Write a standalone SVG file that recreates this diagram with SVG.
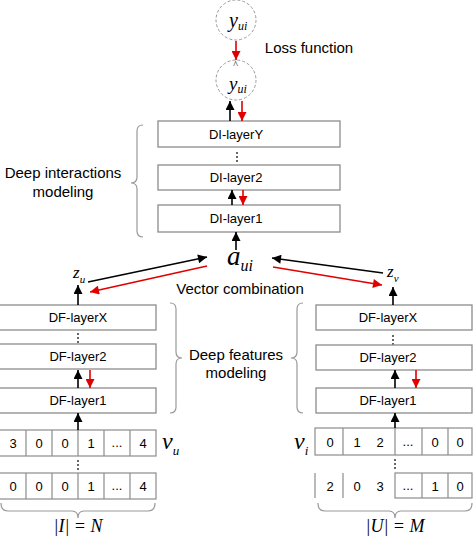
<svg xmlns="http://www.w3.org/2000/svg" width="474" height="536" viewBox="0 0 474 536">
<defs>
<marker id="ab" viewBox="0 0 10 10" refX="10" refY="5" markerWidth="10" markerHeight="9" markerUnits="userSpaceOnUse" orient="auto"><path d="M0,0 L10,5 L0,10 Z" fill="#000"/></marker>
<marker id="ar" viewBox="0 0 10 10" refX="10" refY="5" markerWidth="10" markerHeight="9" markerUnits="userSpaceOnUse" orient="auto"><path d="M0,0 L10,5 L0,10 Z" fill="#e00000"/></marker>
</defs>
<style>
.box{fill:#fff;stroke:#8c8c8c;stroke-width:1.3}
.cell{fill:none;stroke:#8c8c8c;stroke-width:1.2}
.circ{fill:#fff;stroke:#9a9a9a;stroke-width:1;stroke-dasharray:3 2}
.lbl{font-family:"Liberation Sans",Arial,sans-serif;font-size:13px;fill:#000;text-anchor:middle}
.txt{font-family:"Liberation Sans",Arial,sans-serif;font-size:15px;fill:#000;text-anchor:middle}
.num{font-family:"Liberation Sans",Arial,sans-serif;font-size:13px;fill:#000;text-anchor:middle}
.mth{font-family:"Liberation Serif","Times New Roman",serif;font-style:italic;fill:#000}
.bk{stroke:#000;stroke-width:1.6;fill:none;marker-end:url(#ab)}
.rd{stroke:#e00000;stroke-width:1.6;fill:none;marker-end:url(#ar)}
.br{fill:none;stroke:#999;stroke-width:1.2}
.dot{fill:#333}
</style>

<g id="y-ui">
<circle class="circ" cx="236" cy="20" r="20"/>
<text class="mth" x="229" y="27" font-size="20">y<tspan font-size="12" dy="3">ui</tspan></text>
</g>
<text id="loss-label" class="txt" x="309" y="53">Loss function</text>
<g id="y-hat">
<circle class="circ" cx="236" cy="80" r="20"/>
<text class="mth" x="235" y="68" font-size="10" text-anchor="middle" font-style="normal">^</text>
<text class="mth" x="229" y="90" font-size="19">y<tspan font-size="12" dy="3">ui</tspan></text>
</g>

<g id="di-layerY"><rect class="box" x="158" y="121" width="182" height="26"/><text class="lbl" x="236" y="139">DI-layerY</text></g>
<g id="di-dots"><circle class="dot" cx="237" cy="153" r="1"/><circle class="dot" cx="237" cy="157" r="1"/><circle class="dot" cx="237" cy="161" r="1"/></g>
<g id="di-layer2"><rect class="box" x="158" y="165" width="182" height="25"/><text class="lbl" x="236" y="182">DI-layer2</text></g>
<g id="di-layer1"><rect class="box" x="158" y="205" width="182" height="27"/><text class="lbl" x="236" y="223">DI-layer1</text></g>
<g id="di-brace"><path class="br" d="M143,125 Q137,125 137,131 L137,177 Q137,183 131,183 Q137,183 137,189 L137,231 Q137,237 143,237"/>
<text class="txt" x="63" y="178">Deep interactions</text><text class="txt" x="63" y="197">modeling</text></g>

<g id="a-ui"><text class="mth" x="227" y="265" font-size="27">a<tspan font-size="16" dy="6">ui</tspan></text></g>
<g id="z-u"><text class="mth" x="73" y="278" font-size="17">z<tspan font-size="11" dy="5">u</tspan></text></g>
<g id="z-v"><text class="mth" x="387" y="277" font-size="17">z<tspan font-size="11" dy="5">v</tspan></text></g>
<text id="vc-label" class="txt" x="240" y="294">Vector combination</text>

<g id="df-left">
<rect class="box" x="-1" y="305" width="157" height="25"/><text class="lbl" x="78" y="322">DF-layerX</text>
<circle class="dot" cx="78" cy="334" r="1"/><circle class="dot" cx="78" cy="338" r="1"/><circle class="dot" cx="78" cy="342" r="1"/>
<rect class="box" x="-1" y="344" width="157" height="25"/><text class="lbl" x="78" y="361">DF-layer2</text>
<rect class="box" x="-1" y="388" width="157" height="25"/><text class="lbl" x="78" y="405">DF-layer1</text>
</g>
<g id="df-right">
<rect class="box" x="316" y="305" width="156" height="25"/><text class="lbl" x="388" y="322">DF-layerX</text>
<circle class="dot" cx="393" cy="336" r="1"/><circle class="dot" cx="393" cy="340" r="1"/><circle class="dot" cx="393" cy="344" r="1"/>
<rect class="box" x="316" y="345" width="156" height="25"/><text class="lbl" x="388" y="362">DF-layer2</text>
<rect class="box" x="316" y="388" width="156" height="25"/><text class="lbl" x="388" y="405">DF-layer1</text>
</g>
<g id="df-brace"><path class="br" d="M170,303 Q176,303 176,309 L176,352 Q176,358 182,358 Q176,358 176,364 L176,407 Q176,413 170,413"/>
<path class="br" d="M303,303 Q297,303 297,309 L297,352 Q297,358 291,358 Q297,358 297,364 L297,407 Q297,413 303,413"/>
<text class="txt" x="236" y="360">Deep features</text><text class="txt" x="236" y="378">modeling</text></g>

<g id="table-u">
<rect class="cell" x="-1" y="430" width="157" height="26"/>
<path class="cell" d="M26,430V456M52,430V456M78,430V456M104,430V456M130,430V456"/>
<text class="num" x="13" y="448">3</text><text class="num" x="39" y="448">0</text><text class="num" x="65" y="448">0</text><text class="num" x="91" y="448">1</text><text class="num" x="117" y="447" font-size="10">...</text><text class="num" x="143" y="448">4</text>
<circle class="dot" cx="78" cy="461" r="1"/><circle class="dot" cx="78" cy="465" r="1"/><circle class="dot" cx="78" cy="469" r="1"/>
<rect class="cell" x="-1" y="473" width="157" height="26"/>
<path class="cell" d="M26,473V499M52,473V499M78,473V499M104,473V499M130,473V499"/>
<text class="num" x="13" y="491">0</text><text class="num" x="39" y="491">0</text><text class="num" x="65" y="491">0</text><text class="num" x="91" y="491">1</text><text class="num" x="117" y="490" font-size="10">...</text><text class="num" x="143" y="491">4</text>
<text class="mth" x="162" y="449" font-size="24">v<tspan font-size="13" dy="6">u</tspan></text>
<path class="br" d="M1,503 Q1,511 8,511 L72,511 Q78,511 78,518 Q78,511 84,511 L148,511 Q155,511 155,503"/>
<text class="mth" x="78" y="532" font-size="18" text-anchor="middle">|I| = N</text>
</g>
<g id="table-i">
<rect class="cell" x="315" y="428" width="157" height="27"/>
<path class="cell" d="M343,428V455M395,428V455M422,428V455M448,428V455"/>
<text class="num" x="330" y="447">0</text><text class="num" x="357" y="447">1</text><text class="num" x="380" y="447">2</text><text class="num" x="408" y="446" font-size="10">...</text><text class="num" x="435" y="447">0</text><text class="num" x="460" y="447">0</text>
<circle class="dot" cx="395" cy="460" r="1"/><circle class="dot" cx="395" cy="464" r="1"/><circle class="dot" cx="395" cy="468" r="1"/>
<path class="cell" d="M315,473V498M343,473V498"/>
<rect class="cell" x="395" y="473" width="77" height="25"/>
<path class="cell" d="M422,473V498M448,473V498"/>
<text class="num" x="330" y="491">2</text><text class="num" x="357" y="491">0</text><text class="num" x="380" y="491">3</text><text class="num" x="408" y="490" font-size="10">...</text><text class="num" x="435" y="491">1</text><text class="num" x="460" y="491">0</text>
<text class="mth" x="294" y="449" font-size="24">v<tspan font-size="13" dy="6">i</tspan></text>
<path class="br" d="M318,503 Q318,511 325,511 L389,511 Q395,511 395,518 Q395,511 401,511 L465,511 Q472,511 472,503"/>
<text class="mth" x="395" y="532" font-size="18" text-anchor="middle">|U| = M</text>
</g>

<g id="connectors">
<line class="rd" x1="236" y1="41" x2="236" y2="60"/>
<line class="bk" x1="230" y1="121" x2="230" y2="101"/>
<line class="rd" x1="242" y1="101" x2="242" y2="121"/>
<line class="bk" x1="232" y1="205" x2="232" y2="190"/>
<line class="rd" x1="243" y1="190" x2="243" y2="205"/>
<line class="bk" x1="236" y1="250" x2="236" y2="232"/>
<line class="bk" x1="88" y1="282" x2="207" y2="257"/>
<line class="rd" x1="207" y1="266" x2="90" y2="292"/>
<line class="bk" x1="383" y1="273" x2="272" y2="258"/>
<line class="rd" x1="273" y1="267" x2="382" y2="285"/>
<line class="bk" x1="78" y1="305" x2="78" y2="285"/>
<line class="bk" x1="393" y1="305" x2="393" y2="287"/>
<line class="bk" x1="78" y1="388" x2="78" y2="370"/>
<line class="rd" x1="90" y1="370" x2="90" y2="388"/>
<line class="bk" x1="395" y1="388" x2="395" y2="370"/>
<line class="rd" x1="416" y1="370" x2="416" y2="388"/>
<line class="bk" x1="78" y1="430" x2="78" y2="413"/>
<line class="bk" x1="395" y1="428" x2="395" y2="413"/>
</g>
</svg>
